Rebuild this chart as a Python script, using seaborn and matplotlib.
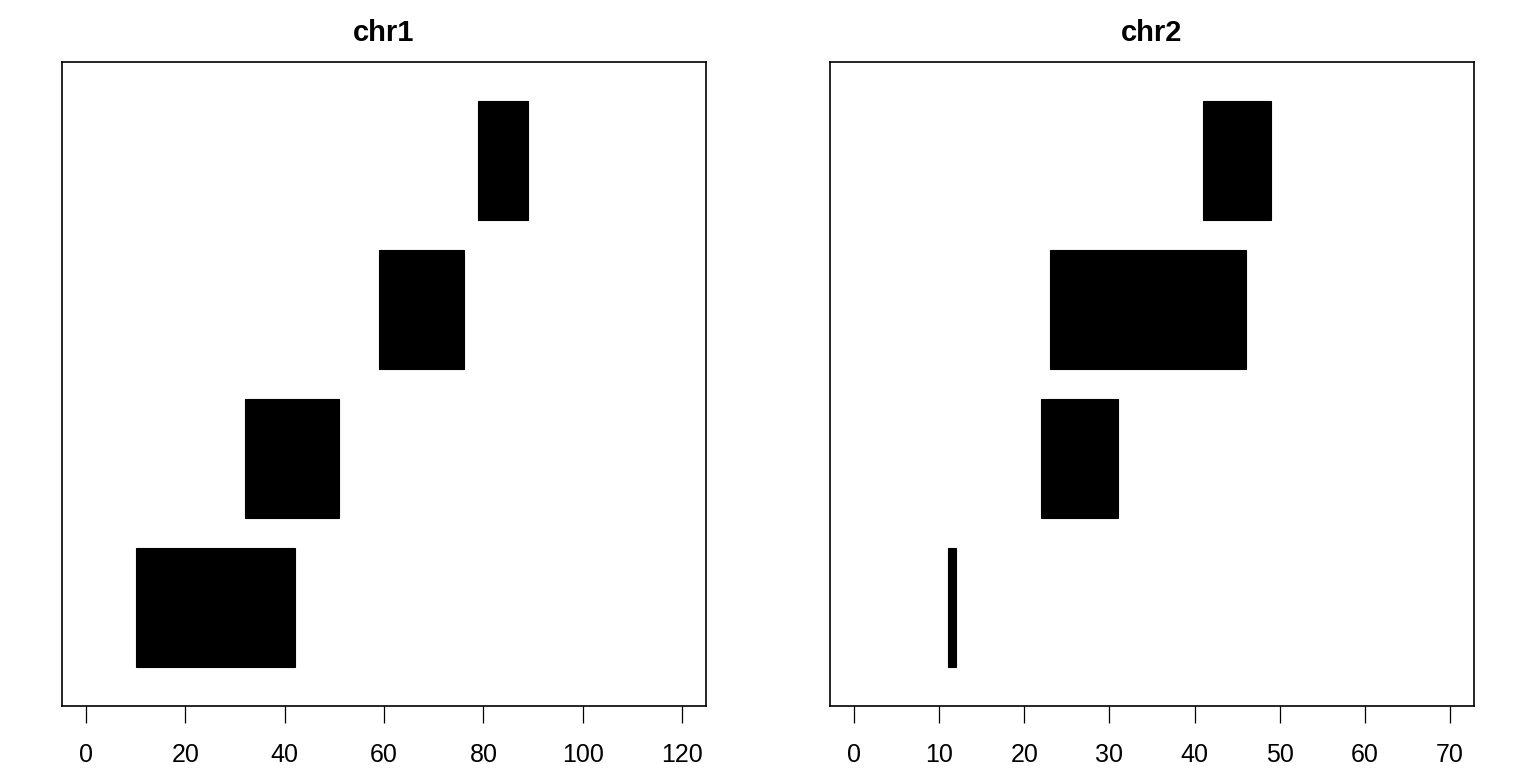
import numpy as np
import pandas as pd
from matplotlib import pyplot as plt
import seaborn as sns

# interval data, one row per region
chroms = ['chr1', 'chr2']
chr1_start = [10, 32, 59, 79]
chr1_end = [42, 51, 76, 89]
chr2_start = [11, 22, 23, 41]
chr2_end = [12, 31, 46, 49]
rows = [1, 2, 3, 4]
chr1_ticks = [0, 20, 40, 60, 80, 100, 120]
chr2_ticks = [0, 10, 20, 30, 40, 50, 60, 70]

df = pd.DataFrame({
    'chrom': ['chr1'] * 4 + ['chr2'] * 4,
    'start': chr1_start + chr2_start,
    'end': chr1_end + chr2_end,
    'row': rows + rows,
})

sns.set_theme(style='white')
plt.rcParams['font.family'] = ['Liberation Sans', 'DejaVu Sans']
plt.rcParams['text.color'] = 'black'
plt.rcParams['xtick.color'] = 'black'
plt.rcParams['xtick.labelcolor'] = 'black'
plt.rcParams['axes.titlecolor'] = 'black'

fig = plt.figure(figsize=(15.36, 7.68), dpi=100)
lefts = [62 / 1536, 830 / 1536]
tick_sets = {'chr1': chr1_ticks, 'chr2': chr2_ticks}

for left, chrom in zip(lefts, chroms):
    ax = fig.add_axes([left, 62 / 768, 644 / 1536, 644 / 768])
    sub = df[df['chrom'] == chrom]
    ax.barh(sub['row'], sub['end'] - sub['start'], left=sub['start'], height=0.8,
            color='black', edgecolor='black', linewidth=0.8)
    ticks = tick_sets[chrom]
    span = ticks[-1] - ticks[0]
    ax.set_xlim(ticks[0] - 0.04 * span, ticks[-1] + 0.04 * span)
    ax.set_ylim(0.34, 4.66)
    ax.set_xticks(ticks)
    ax.set_yticks([])
    ax.tick_params(axis='x', direction='out', length=12, width=0.9, color='black',
                   labelsize=18, pad=15, bottom=True, labelcolor='black')
    for s in ax.spines.values():
        s.set_visible(True)
        s.set_color('black')
        s.set_linewidth(1.2)
    ax.set_title(chrom, fontsize=21, fontweight='bold', pad=15, color='black')

fig.savefig('out.png', dpi=100, facecolor='white')
